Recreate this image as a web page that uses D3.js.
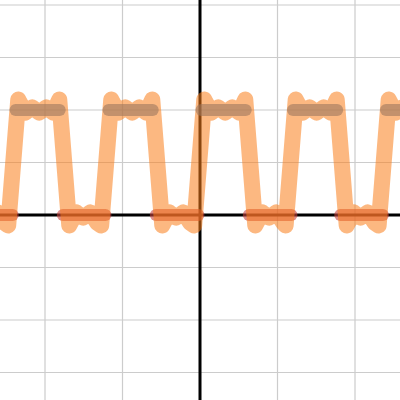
<!DOCTYPE html><html><head><script src="https://cdn.jsdelivr.net/npm/d3@7"></script>
<style>body{margin:0}svg{display:block}</style></head><body><svg id="c" width="400" height="400"></svg><script>
const xTicks=[-2,-1,1,2];
const yTicks=[-3,-2,-1,1,2,3,4];
const riseCenters=[-2.41,-1.21,-0.01,1.17,2.37];
const shapeDx=[-0.065,0.065,0.155,0.245,0.335,0.426,0.516,0.594,0.723,0.813,0.903,0.994,1.084];
const shapeY=[-0.2,2.2,1.95,2.05,1.95,2.05,1.95,2.2,-0.2,0.05,-0.05,0.05,-0.15];
const highSeg=[0.03,0.6], lowSeg=[0.64,1.19], highY=2, lowY=0;
const x=d3.scaleLinear().domain([-200/77.5,200/77.5]).range([0,400]);
const y=d3.scaleLinear().domain([215/52.5,-185/52.5]).range([0,400]);
const svg=d3.select("#c");
svg.append("rect").attr("width",400).attr("height",400).attr("fill","#fff");
svg.selectAll(".gx").data(xTicks).enter().append("line").attr("x1",d=>x(d)).attr("x2",d=>x(d)).attr("y1",0).attr("y2",400).attr("stroke","#ccc").attr("stroke-width",1.2);
svg.selectAll(".gy").data(yTicks).enter().append("line").attr("y1",d=>y(d)).attr("y2",d=>y(d)).attr("x1",0).attr("x2",400).attr("stroke","#ccc").attr("stroke-width",1.2);
svg.append("line").attr("x1",x(0)).attr("x2",x(0)).attr("y1",0).attr("y2",400).attr("stroke","#000").attr("stroke-width",3);
svg.append("line").attr("y1",y(0)).attr("y2",y(0)).attr("x1",0).attr("x2",400).attr("stroke","#000").attr("stroke-width",3);
const starts=[riseCenters[0]-1.197,...riseCenters];
starts.forEach(c=>{
 svg.append("line").attr("x1",x(c+highSeg[0])).attr("x2",x(c+highSeg[1])).attr("y1",y(highY)).attr("y2",y(highY)).attr("stroke","#2d70b3").attr("stroke-opacity",0.6).attr("stroke-width",12).attr("stroke-linecap","round");
 svg.append("line").attr("x1",x(c+lowSeg[0])).attr("x2",x(c+lowSeg[1])).attr("y1",y(lowY)).attr("y2",y(lowY)).attr("stroke","#c74440").attr("stroke-opacity",0.6).attr("stroke-width",12).attr("stroke-linecap","round");
});
const pts=[];
starts.forEach(c=>shapeDx.forEach((dx,i)=>pts.push([c+dx,shapeY[i]])));
svg.append("path").attr("d",d3.line().x(d=>x(d[0])).y(d=>y(d[1])).curve(d3.curveLinear)(pts))
 .attr("fill","none").attr("stroke","#fa7e19").attr("stroke-opacity",0.55).attr("stroke-width",16).attr("stroke-linejoin","round").attr("stroke-linecap","round");
</script></body></html>
